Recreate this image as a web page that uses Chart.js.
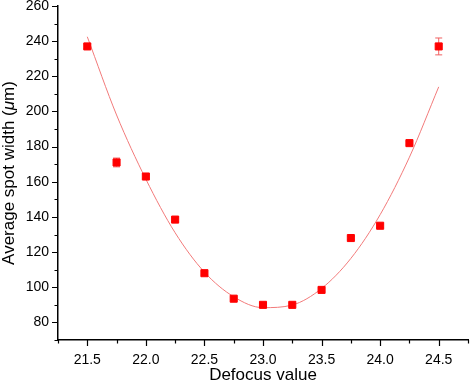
<!DOCTYPE html>
<html>
<head>
<meta charset="utf-8">
<script src="https://cdn.jsdelivr.net/npm/chart.js@4/dist/chart.umd.min.js"></script>
<style>
  html, body { margin: 0; padding: 0; background: #fff; }
</style>
</head>
<body>
<canvas id="spotChart" width="474" height="386"></canvas>
<script>
// defocus positions (x) and measured spot width
var defocus = [21.5, 21.75, 22.0, 22.25, 22.5, 22.75, 23.0, 23.25, 23.5, 23.75, 24.0, 24.25, 24.5];
var spotWidth = [237, 171, 163, 138.5, 108, 93.5, 90, 90, 98.5, 128, 135, 182, 237];
var spotError = [1.2, 2.5, 1, 1, 1, 1, 1, 1, 1, 1, 1, 1, 4.8];
// fitted curve
var fitWidth = [242.5, 198, 161.5, 131, 108.6, 94.6, 88.4, 89.9, 99.3, 116.4, 141.3, 174.0, 214];

var yTickLabels = [80, 100, 120, 140, 160, 180, 200, 220, 240, 260];
var xTickLabels = ['21.5', '22.0', '22.5', '23.0', '23.5', '24.0', '24.5'];

var FONT = "'Liberation Sans', Arial, sans-serif";

function toPoints(xs, ys) {
    var out = [];
    for (var i = 0; i < xs.length; i++) out.push({ x: xs[i], y: ys[i] });
    return out;
}

function xLabel(v) {
    var s = v.toFixed(2);
    s = s.slice(-1) === '0' ? v.toFixed(1) : s;
    return xTickLabels.indexOf(s) >= 0 ? s : '';
}

var extras = {
    id: 'extras',
    beforeDatasetsDraw: function (chart) {
        var ctx = chart.ctx, xs = chart.scales.x, ys = chart.scales.y;
        ctx.save();
        ctx.strokeStyle = '#f06060';
        ctx.lineWidth = 1;
        for (var i = 0; i < defocus.length; i++) {
            var px = xs.getPixelForValue(defocus[i]);
            var top = ys.getPixelForValue(spotWidth[i] + spotError[i]);
            var bot = ys.getPixelForValue(spotWidth[i] - spotError[i]);
            ctx.beginPath();
            ctx.moveTo(px, top); ctx.lineTo(px, bot);
            ctx.moveTo(px - 3.5, top); ctx.lineTo(px + 3.5, top);
            ctx.moveTo(px - 3.5, bot); ctx.lineTo(px + 3.5, bot);
            ctx.stroke();
        }
        ctx.restore();
    },
    afterDraw: function (chart) {
        var ctx = chart.ctx, xs = chart.scales.x, ys = chart.scales.y;
        var area = chart.chartArea;
        ctx.save();
        // major and minor tick marks (labelled ticks are the long ones)
        ctx.strokeStyle = '#000';
        ctx.lineWidth = 1.2;
        ctx.beginPath();
        xs.ticks.forEach(function (t) {
            var px = Math.round(xs.getPixelForValue(t.value)) + 0.5;
            ctx.moveTo(px, area.bottom);
            ctx.lineTo(px, area.bottom + (t.label ? 6 : 3.5));
        });
        ys.ticks.forEach(function (t) {
            var py = Math.round(ys.getPixelForValue(t.value)) + 0.5;
            ctx.moveTo(area.left, py);
            ctx.lineTo(area.left - (t.label ? 6 : 3.5), py);
        });
        ctx.stroke();

        // y axis title with italic mu
        var parts = [
            { t: 'Average spot width (', f: '17px ' + FONT },
            { t: '\u03bc', f: 'italic 17px ' + FONT },
            { t: 'm)', f: '17px ' + FONT }
        ];
        var total = 0;
        parts.forEach(function (p) { ctx.font = p.f; p.w = ctx.measureText(p.t).width; total += p.w; });
        ctx.translate(9, (area.top + area.bottom) / 2);
        ctx.rotate(-Math.PI / 2);
        ctx.fillStyle = '#000';
        ctx.textBaseline = 'middle';
        ctx.textAlign = 'left';
        var cx = -total / 2;
        parts.forEach(function (p) { ctx.font = p.f; ctx.fillText(p.t, cx, 0); cx += p.w; });
        ctx.restore();
    }
};

var chart = new Chart(document.getElementById('spotChart'), {
    type: 'scatter',
    data: {
        datasets: [
            {
                label: 'Average spot width',
                data: toPoints(defocus, spotWidth),
                pointStyle: 'rect',
                pointRadius: 5,
                backgroundColor: '#ff0000',
                borderColor: '#ff0000',
                borderWidth: 1,
                showLine: false
            },
            {
                label: 'Fit',
                data: toPoints(defocus, fitWidth),
                showLine: true,
                pointRadius: 0,
                borderColor: '#f27a7a',
                borderWidth: 1,
                cubicInterpolationMode: 'monotone',
                fill: false
            }
        ]
    },
    options: {
        responsive: false,
        animation: false,
        layout: { padding: { top: 6, right: 1, left: 0, bottom: 0 } },
        plugins: { legend: { display: false }, tooltip: { enabled: false } },
        scales: {
            x: {
                type: 'linear',
                min: 21.25,
                max: 24.75,
                afterFit: function (s) { s.height = 46; },
                border: { color: '#000', width: 1.5 },
                grid: { drawOnChartArea: false, tickLength: 12, tickColor: 'rgba(0,0,0,0)' },
                ticks: {
                    stepSize: 0.25,
                    autoSkip: false,
                    color: '#000',
                    padding: 0,
                    font: { family: FONT, size: 14 },
                    maxRotation: 0,
                    callback: function (v) { return xLabel(v); }
                },
                title: {
                    display: true,
                    text: 'Defocus value',
                    color: '#000',
                    font: { family: FONT, size: 17 },
                    padding: { top: 2, bottom: 0 }
                }
            },
            y: {
                min: 70,
                max: 260,
                afterFit: function (s) { s.width = 58; s.paddingTop = 0; s.paddingBottom = 0; },
                border: { color: '#000', width: 1.5 },
                grid: { drawOnChartArea: false, tickLength: 6, tickColor: 'rgba(0,0,0,0)' },
                ticks: {
                    stepSize: 10,
                    autoSkip: false,
                    color: '#000',
                    padding: 3,
                    font: { family: FONT, size: 14 },
                    callback: function (v) {
                        return yTickLabels.indexOf(v) >= 0 ? String(v) : '';
                    }
                }
            }
        }
    },
    plugins: [extras]
});
</script>
</body>
</html>
